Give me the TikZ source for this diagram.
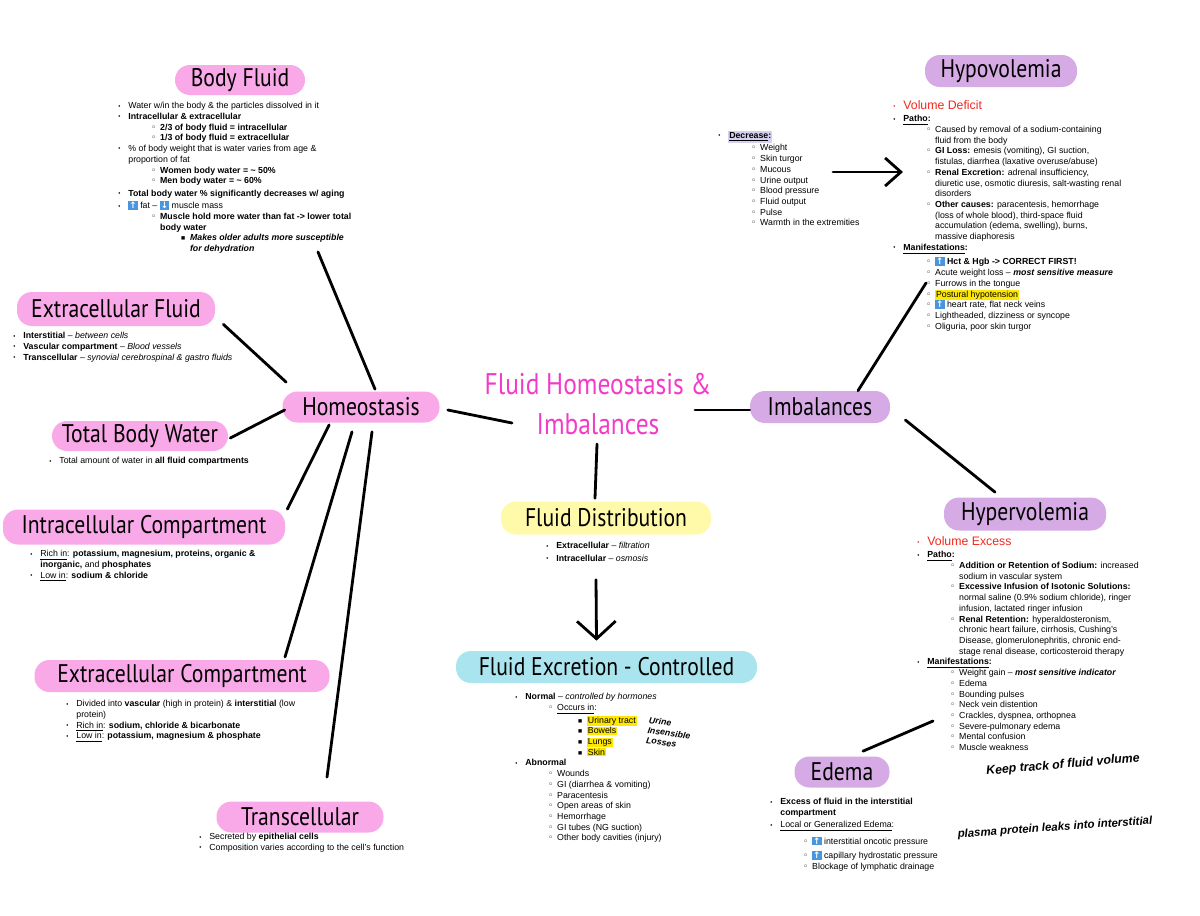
\documentclass[tikz,border=0pt]{standalone}
\usepackage{fontspec}
\setmainfont{Liberation Sans}
\newfontfamily\hdfont{PT Sans}
\newfontfamily\symf{DejaVu Sans}
\usepackage{tikz}
\usetikzlibrary{positioning,arrows.meta,calc}
\usepackage{xcolor}
\usepackage{graphicx}

\definecolor{pillpink}{RGB}{249,168,232}
\definecolor{pillpurple}{RGB}{214,170,228}
\definecolor{pillyellow}{RGB}{255,249,170}
\definecolor{pillcyan}{RGB}{170,228,238}
\definecolor{titlemag}{RGB}{242,60,200}
\definecolor{defred}{RGB}{240,40,30}
\definecolor{hlyel}{RGB}{255,232,0}
\definecolor{lav}{RGB}{212,208,240}
\definecolor{icblue}{RGB}{74,150,222}

\newcommand{\hdtxt}[1]{\scalebox{0.85}[1]{#1}}
\newcommand{\bula}{\makebox[5.7pt][l]{\raisebox{0.4pt}{\fontsize{3.5}{4}\selectfont\textbullet}}}
\newcommand{\bulb}{\hspace*{18.7pt}\makebox[5.1pt][l]{{\symf ◦}}}
\newcommand{\bulc}{\hspace*{35.7pt}\makebox[5.1pt][l]{\raisebox{0.6pt}{\symf\fontsize{2.5}{3}\selectfont■}}}
\newcommand{\inda}{\hspace*{5.7pt}}
\newcommand{\indb}{\hspace*{23.8pt}}
\newcommand{\indc}{\hspace*{40.8pt}}
\newcommand{\upic}{{\setlength{\fboxsep}{0.6pt}\colorbox{icblue}{\textcolor{white}{\symf\bfseries ↑}}}}
\newcommand{\dnic}{{\setlength{\fboxsep}{0.6pt}\colorbox{icblue}{\textcolor{white}{\symf\bfseries ↓}}}}
\newcommand{\hlt}[1]{{\setlength{\fboxsep}{0.5pt}\colorbox{hlyel}{#1}}}

\begin{document}
\begin{tikzpicture}[x=1cm,y=1cm,every node/.style={font=\fontsize{5}{6.1}\selectfont},
  pill/.style={rounded corners=8.5pt,inner sep=0pt,font=\hdfont\fontsize{14.5}{16}\selectfont},
  notes/.style={anchor=north west,inner sep=0pt,align=left},
  link/.style={line width=1.6pt,line cap=round},
  scrawl/.style={font=\fontsize{7}{8}\selectfont\bfseries\itshape}]
\useasboundingbox (0,0) rectangle (24,-18.3);

\node[pill,fill=pillpink,minimum width=2.6cm,minimum height=0.6cm] (bodyfl) at (4.8,-1.6) {\hdtxt{Body Fluid}};
\node[pill,fill=pillpink,minimum width=3.96cm,minimum height=0.68cm] (extfl) at (2.32,-6.18) {\hdtxt{Extracellular Fluid}};
\node[pill,fill=pillpink,minimum width=3.52cm,minimum height=0.6cm] (tbw) at (2.8,-8.72) {\hdtxt{Total Body Water}};
\node[pill,fill=pillpink,minimum width=5.64cm,minimum height=0.7cm] (intcomp) at (2.88,-10.54) {\hdtxt{Intracellular Compartment}};
\node[pill,fill=pillpink,minimum width=5.9cm,minimum height=0.64cm] (extcomp) at (3.64,-13.52) {\hdtxt{Extracellular Compartment}};
\node[pill,fill=pillpink,minimum width=3.34cm,minimum height=0.62cm] (transc) at (6.0,-16.34) {\hdtxt{Transcellular}};
\node[pill,fill=pillpink,minimum width=3.14cm,minimum height=0.62cm] (homeo) at (7.22,-8.14) {\hdtxt{Homeostasis}};
\node[font=\hdfont\fontsize{17}{22.7}\selectfont,text=titlemag,align=center] (title) at (11.96,-8.08) {\hdtxt{Fluid Homeostasis \&}\\\hdtxt{Imbalances}};
\node[pill,fill=pillpurple,minimum width=2.8cm,minimum height=0.64cm] (imbal) at (16.4,-8.14) {\hdtxt{Imbalances}};
\node[pill,fill=pillpurple,minimum width=3.04cm,minimum height=0.64cm] (hypo) at (20.02,-1.42) {\hdtxt{Hypovolemia}};
\node[pill,fill=pillpurple,minimum width=3.24cm,minimum height=0.66cm] (hyper) at (20.5,-10.28) {\hdtxt{Hypervolemia}};
\node[pill,fill=pillpurple,minimum width=1.9cm,minimum height=0.62cm] (edema) at (16.84,-15.44) {\hdtxt{Edema}};
\node[pill,fill=pillyellow,minimum width=4.2cm,minimum height=0.66cm] (fdist) at (12.12,-10.36) {\hdtxt{Fluid Distribution}};
\node[pill,fill=pillcyan,minimum width=6.02cm,minimum height=0.64cm] (fexc) at (12.13,-13.34) {\hdtxt{Fluid Excretion - Controlled}};

\node[notes] (bfnotes) at (2.36,-2.04) {\bula Water w/in the body \& the particles dissolved in it\\
\bula\textbf{Intracellular \& extracellular}\\
\bulb\textbf{2/3 of body fluid = intracellular}\\
\bulb\textbf{1/3 of body fluid = extracellular}\\
\bula\% of body weight that is water varies from age \&\\
\inda proportion of fat\\
\bulb\textbf{Women body water = \textasciitilde\ 50\%}\\
\bulb\textbf{Men body water = \textasciitilde\ 60\%}\\[1pt]
\bula\textbf{Total body water \% significantly decreases w/ aging}\\[1pt]
\bula\upic{} fat -- \dnic{} muscle mass\\
\bulb\textbf{Muscle hold more water than fat -> lower total}\\
\indb\textbf{body water}\\
\bulc\textbf{\textit{Makes older adults more susceptible}}\\
\indc\textbf{\textit{for dehydration}}};
\node[notes] (efnotes) at (0.26,-6.64) {\bula\textbf{Interstitial} -- \textit{between cells}\\
\bula\textbf{Vascular compartment} -- \textit{Blood vessels}\\
\bula\textbf{Transcellular} -- \textit{synovial cerebrospinal \& gastro fluids}};
\node[notes] (tbwnotes) at (0.98,-9.14) {\bula Total amount of water in \textbf{all fluid compartments}};
\node[notes] (icnotes) at (0.6,-11.0) {\bula\underline{Rich in}: \textbf{potassium, magnesium, proteins, organic \&}\\
\inda\textbf{inorganic,} and \textbf{phosphates}\\
\bula\underline{Low in}: \textbf{sodium \& chloride}};
\node[notes] (ecnotes) at (1.32,-14.0) {\bula Divided into \textbf{vascular} (high in protein) \& \textbf{interstitial} (low\\
\inda protein)\\
\bula\underline{Rich in}: \textbf{sodium, chloride \& bicarbonate}\\
\bula\underline{Low in}: \textbf{potassium, magnesium \& phosphate}};
\node[notes] (trnotes) at (3.98,-16.66) {\bula Secreted by \textbf{epithelial cells}\\
\bula Composition varies according to the cell's function};
\node[notes] (fdnotes) at (10.92,-10.84) {\bula\textbf{Extracellular} -- \textit{filtration}\\[1pt]
\bula\textbf{Intracellular} -- \textit{osmosis}};
\node[notes] (fenotes) at (10.3,-13.86) {\bula\textbf{Normal} -- \textit{controlled by hormones}\\
\bulb\underline{Occurs in}:\\
\bulc\hlt{Urinary tract}\\
\bulc\hlt{Bowels}\\
\bulc\hlt{Lungs}\\
\bulc\hlt{Skin}\\
\bula\textbf{Abnormal}\\
\bulb Wounds\\
\bulb GI (diarrhea \& vomiting)\\
\bulb Paracentesis\\
\bulb Open areas of skin\\
\bulb Hemorrhage\\
\bulb GI tubes (NG suction)\\
\bulb Other body cavities (injury)};
\node[notes] (decnotes) at (14.36,-2.62) {\bula{\setlength{\fboxsep}{0.5pt}\colorbox{lav}{\textbf{\underline{Decrease}:}}}\\
\bulb Weight\\
\bulb Skin turgor\\
\bulb Mucous\\
\bulb Urine output\\
\bulb Blood pressure\\
\bulb Fluid output\\
\bulb Pulse\\
\bulb Warmth in the extremities};
\node[notes] (hyponotes) at (17.86,-2.0) {{\color{defred}\bula{\fontsize{7}{8}\selectfont Volume Deficit}}\\[1pt]
\bula\textbf{\underline{Patho}:}\\
\bulb Caused by removal of a sodium-containing\\
\indb fluid from the body\\
\bulb\textbf{GI Loss:} emesis (vomiting), GI suction,\\
\indb fistulas, diarrhea (laxative overuse/abuse)\\
\bulb\textbf{Renal Excretion:} adrenal insufficiency,\\
\indb diuretic use, osmotic diuresis, salt-wasting renal\\
\indb disorders\\
\bulb\textbf{Other causes:} paracentesis, hemorrhage\\
\indb (loss of whole blood), third-space fluid\\
\indb accumulation (edema, swelling), burns,\\
\indb massive diaphoresis\\
\bula\textbf{\underline{Manifestations}:}\\[1pt]
\bulb\upic{} \textbf{Hct \& Hgb -> CORRECT FIRST!}\\
\bulb Acute weight loss -- \textbf{\textit{most sensitive measure}}\\
\bulb Furrows in the tongue\\
\bulb\hlt{Postural hypotension}\\
\bulb\upic{} heart rate, flat neck veins\\
\bulb Lightheaded, dizziness or syncope\\
\bulb Oliguria, poor skin turgor};
\node[notes] (hypernotes) at (18.34,-10.72) {{\color{defred}\bula{\fontsize{7}{8}\selectfont Volume Excess}}\\[1pt]
\bula\textbf{\underline{Patho}:}\\
\bulb\textbf{Addition or Retention of Sodium:} increased\\
\indb sodium in vascular system\\
\bulb\textbf{Excessive Infusion of Isotonic Solutions:}\\
\indb normal saline (0.9\% sodium chloride), ringer\\
\indb infusion, lactated ringer infusion\\
\bulb\textbf{Renal Retention:} hyperaldosteronism,\\
\indb chronic heart failure, cirrhosis, Cushing's\\
\indb Disease, glomerulonephritis, chronic end-\\
\indb stage renal disease, corticosteroid therapy\\
\bula\textbf{\underline{Manifestations}:}\\
\bulb Weight gain -- \textbf{\textit{most sensitive indicator}}\\
\bulb Edema\\
\bulb Bounding pulses\\
\bulb Neck vein distention\\
\bulb Crackles, dyspnea, orthopnea\\
\bulb Severe-pulmonary edema\\
\bulb Mental confusion\\
\bulb Muscle weakness};
\node[notes] (edemanotes) at (15.4,-15.96) {\bula\textbf{Excess of fluid in the interstitial}\\
\inda\textbf{compartment}\\[1pt]
\bula\underline{Local or Generalized Edema}:\\[2pt]
\bulb\upic{} interstitial oncotic pressure\\[2pt]
\bulb\upic{} capillary hydrostatic pressure\\
\bulb Blockage of lymphatic drainage};

\node[scrawl,rotate=5] (keepnote) at (21.26,-15.3) {Keep track of fluid volume};
\node[scrawl,font=\fontsize{6.5}{7}\selectfont\bfseries\itshape,rotate=4] (plasmanote) at (21.1,-16.56) {plasma protein leaks into interstitial};
\node[scrawl,font=\fontsize{5}{5.8}\selectfont\bfseries\itshape,align=left,rotate=-8] (excnote) at (13.38,-14.66) {Urine\\Insensible\\Losses};

\coordinate (bfend) at (6.36,-5.04);
\coordinate (eccend) at (5.7,-13.14);
\coordinate (hypoend) at (18.52,-5.66);
\coordinate (edemaend) at (18.66,-14.42);
\coordinate (decarr) at (16.66,-3.44);
\coordinate (defarr) at (18.06,-3.44);

\draw[link] ([shift={(0.28,0.04)}]homeo.north) -- (bfend);
\draw[link] ([shift={(0.08,0.18)}]homeo.north west) -- ([shift={(0.16,0.04)}]extfl.south east);
\draw[link] ([shift={(0.04,-0.04)}]tbw.east) -- ([shift={(0.05,-0.06)}]homeo.west);
\draw[link] ([shift={(0.94,-0.04)}]homeo.south west) -- ([shift={(0.04,0)}]intcomp.north east);
\draw[link] ([shift={(-0.18,-0.18)}]homeo.south) -- (eccend);
\draw[link] ([shift={(0.22,-0.18)}]homeo.south) -- ([shift={(0.54,0.48)}]transc.north);
\draw[link] ([shift={(0.16,-0.06)}]homeo.east) -- ([shift={(-1.72,-0.38)}]title.center);
\draw[link] ([shift={(1.94,-0.12)}]title.center) -- ([shift={(0,-0.06)}]imbal.west);
\draw[link] ([shift={(-0.02,-0.8)}]title.center) -- ([shift={(-0.22,0.06)}]fdist.north);
\draw[link,-{Straight Barb[length=10pt,width=22pt]}] ([shift={(-0.2,-0.9)}]fdist.south) -- ([shift={(-0.2,0.2)}]fexc.north);
\draw[link] ([shift={(0.76,0)}]imbal.north) -- (hypoend);
\draw[link] ([shift={(0.3,-0.26)}]imbal.east) -- ([shift={(-0.6,0.1)}]hyper.north);
\draw[link] ([shift={(0.42,0.1)}]edema.north) -- (edemaend);
\draw[link,-{Straight Barb[length=9pt,width=16pt]}] (decarr) -- (defarr);
\end{tikzpicture}
\end{document}
